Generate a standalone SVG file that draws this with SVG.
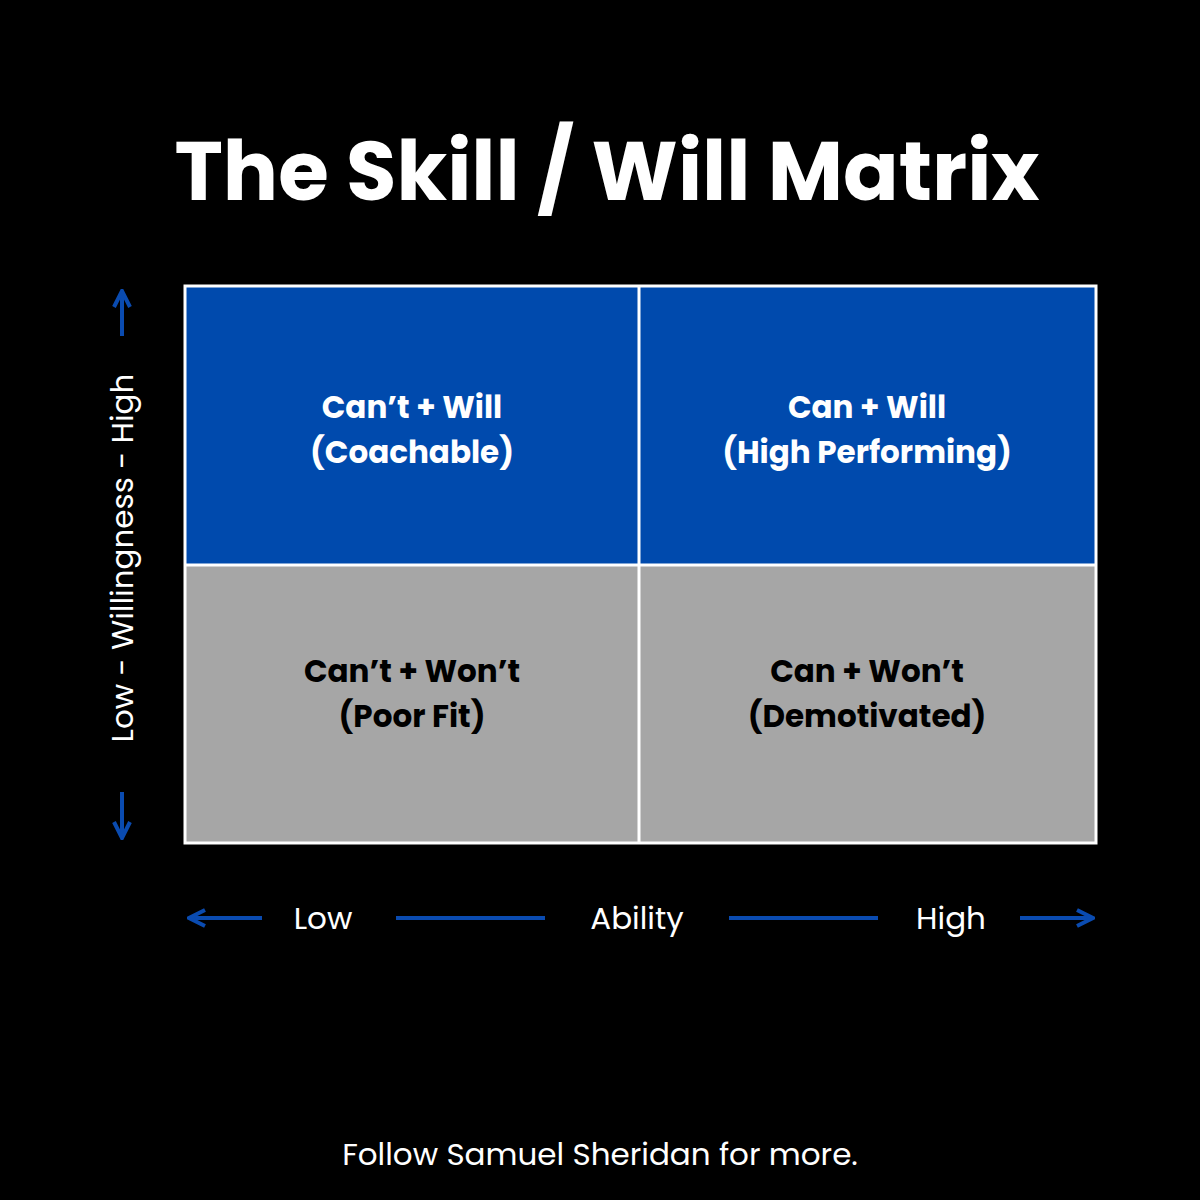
<svg xmlns="http://www.w3.org/2000/svg" width="1200" height="1200" viewBox="0 0 1200 1200">
<style>
.q{font-family:Poppins,Inter,"Liberation Sans",sans-serif;font-weight:700;font-size:31px;text-anchor:middle}
.ax{font-family:Poppins,Inter,"Liberation Sans",sans-serif;font-size:31px;fill:#fff;text-anchor:middle}
.ln{stroke:#0a4bb0;stroke-width:4;fill:none}
</style>
<defs><marker id="ah" viewBox="0 0 10 10" refX="9" refY="5" markerWidth="5" markerHeight="5" orient="auto"><path d="M1 1L9 5L1 9" fill="none" stroke="#0a4bb0" stroke-width="2"/></marker></defs>
<rect width="1200" height="1200" fill="#000"/>
<text x="607" y="200" font-family="Poppins,Inter,'Liberation Sans',sans-serif" font-weight="700" font-size="82" fill="#fff" text-anchor="middle">The Skill / Will Matrix</text>
<g id="q1"><rect x="185" y="286" width="454" height="279" fill="#004aad"/><text class="q" fill="#fff" x="412" y="418">Can’t + Will</text><text class="q" fill="#fff" x="412" y="463">(Coachable)</text></g>
<g id="q2"><rect x="639" y="286" width="457" height="279" fill="#004aad"/><text class="q" fill="#fff" x="867" y="418">Can + Will</text><text class="q" fill="#fff" x="867" y="463">(High Performing)</text></g>
<g id="q3"><rect x="185" y="565" width="454" height="278" fill="#a6a6a6"/><text class="q" fill="#000" x="412" y="682">Can’t + Won’t</text><text class="q" fill="#000" x="412" y="727">(Poor Fit)</text></g>
<g id="q4"><rect x="639" y="565" width="457" height="278" fill="#a6a6a6"/><text class="q" fill="#000" x="867" y="682">Can + Won’t</text><text class="q" fill="#000" x="867" y="727">(Demotivated)</text></g>
<g id="grid" stroke="#fff" stroke-width="3" fill="none"><rect x="185" y="286" width="911" height="557"/><line x1="639" y1="286" x2="639" y2="843"/><line x1="185" y1="565" x2="1096" y2="565"/></g>
<g id="connectors">
<line class="ln" x1="122" y1="336" x2="122" y2="291" marker-end="url(#ah)"/>
<line class="ln" x1="122" y1="792" x2="122" y2="838" marker-end="url(#ah)"/>
<line class="ln" x1="262" y1="918" x2="189" y2="918" marker-end="url(#ah)"/>
<line class="ln" x1="396" y1="918" x2="545" y2="918"/>
<line class="ln" x1="729" y1="918" x2="878" y2="918"/>
<line class="ln" x1="1020" y1="918" x2="1093" y2="918" marker-end="url(#ah)"/>
</g>
<text class="ax" transform="translate(133,558) rotate(-90)">Low  -  Willingness  -  High</text>
<text class="ax" x="323" y="929">Low</text>
<text class="ax" x="637" y="929">Ability</text>
<text class="ax" x="951" y="929">High</text>
<text class="ax" x="600" y="1165">Follow Samuel Sheridan for more.</text>
</svg>
